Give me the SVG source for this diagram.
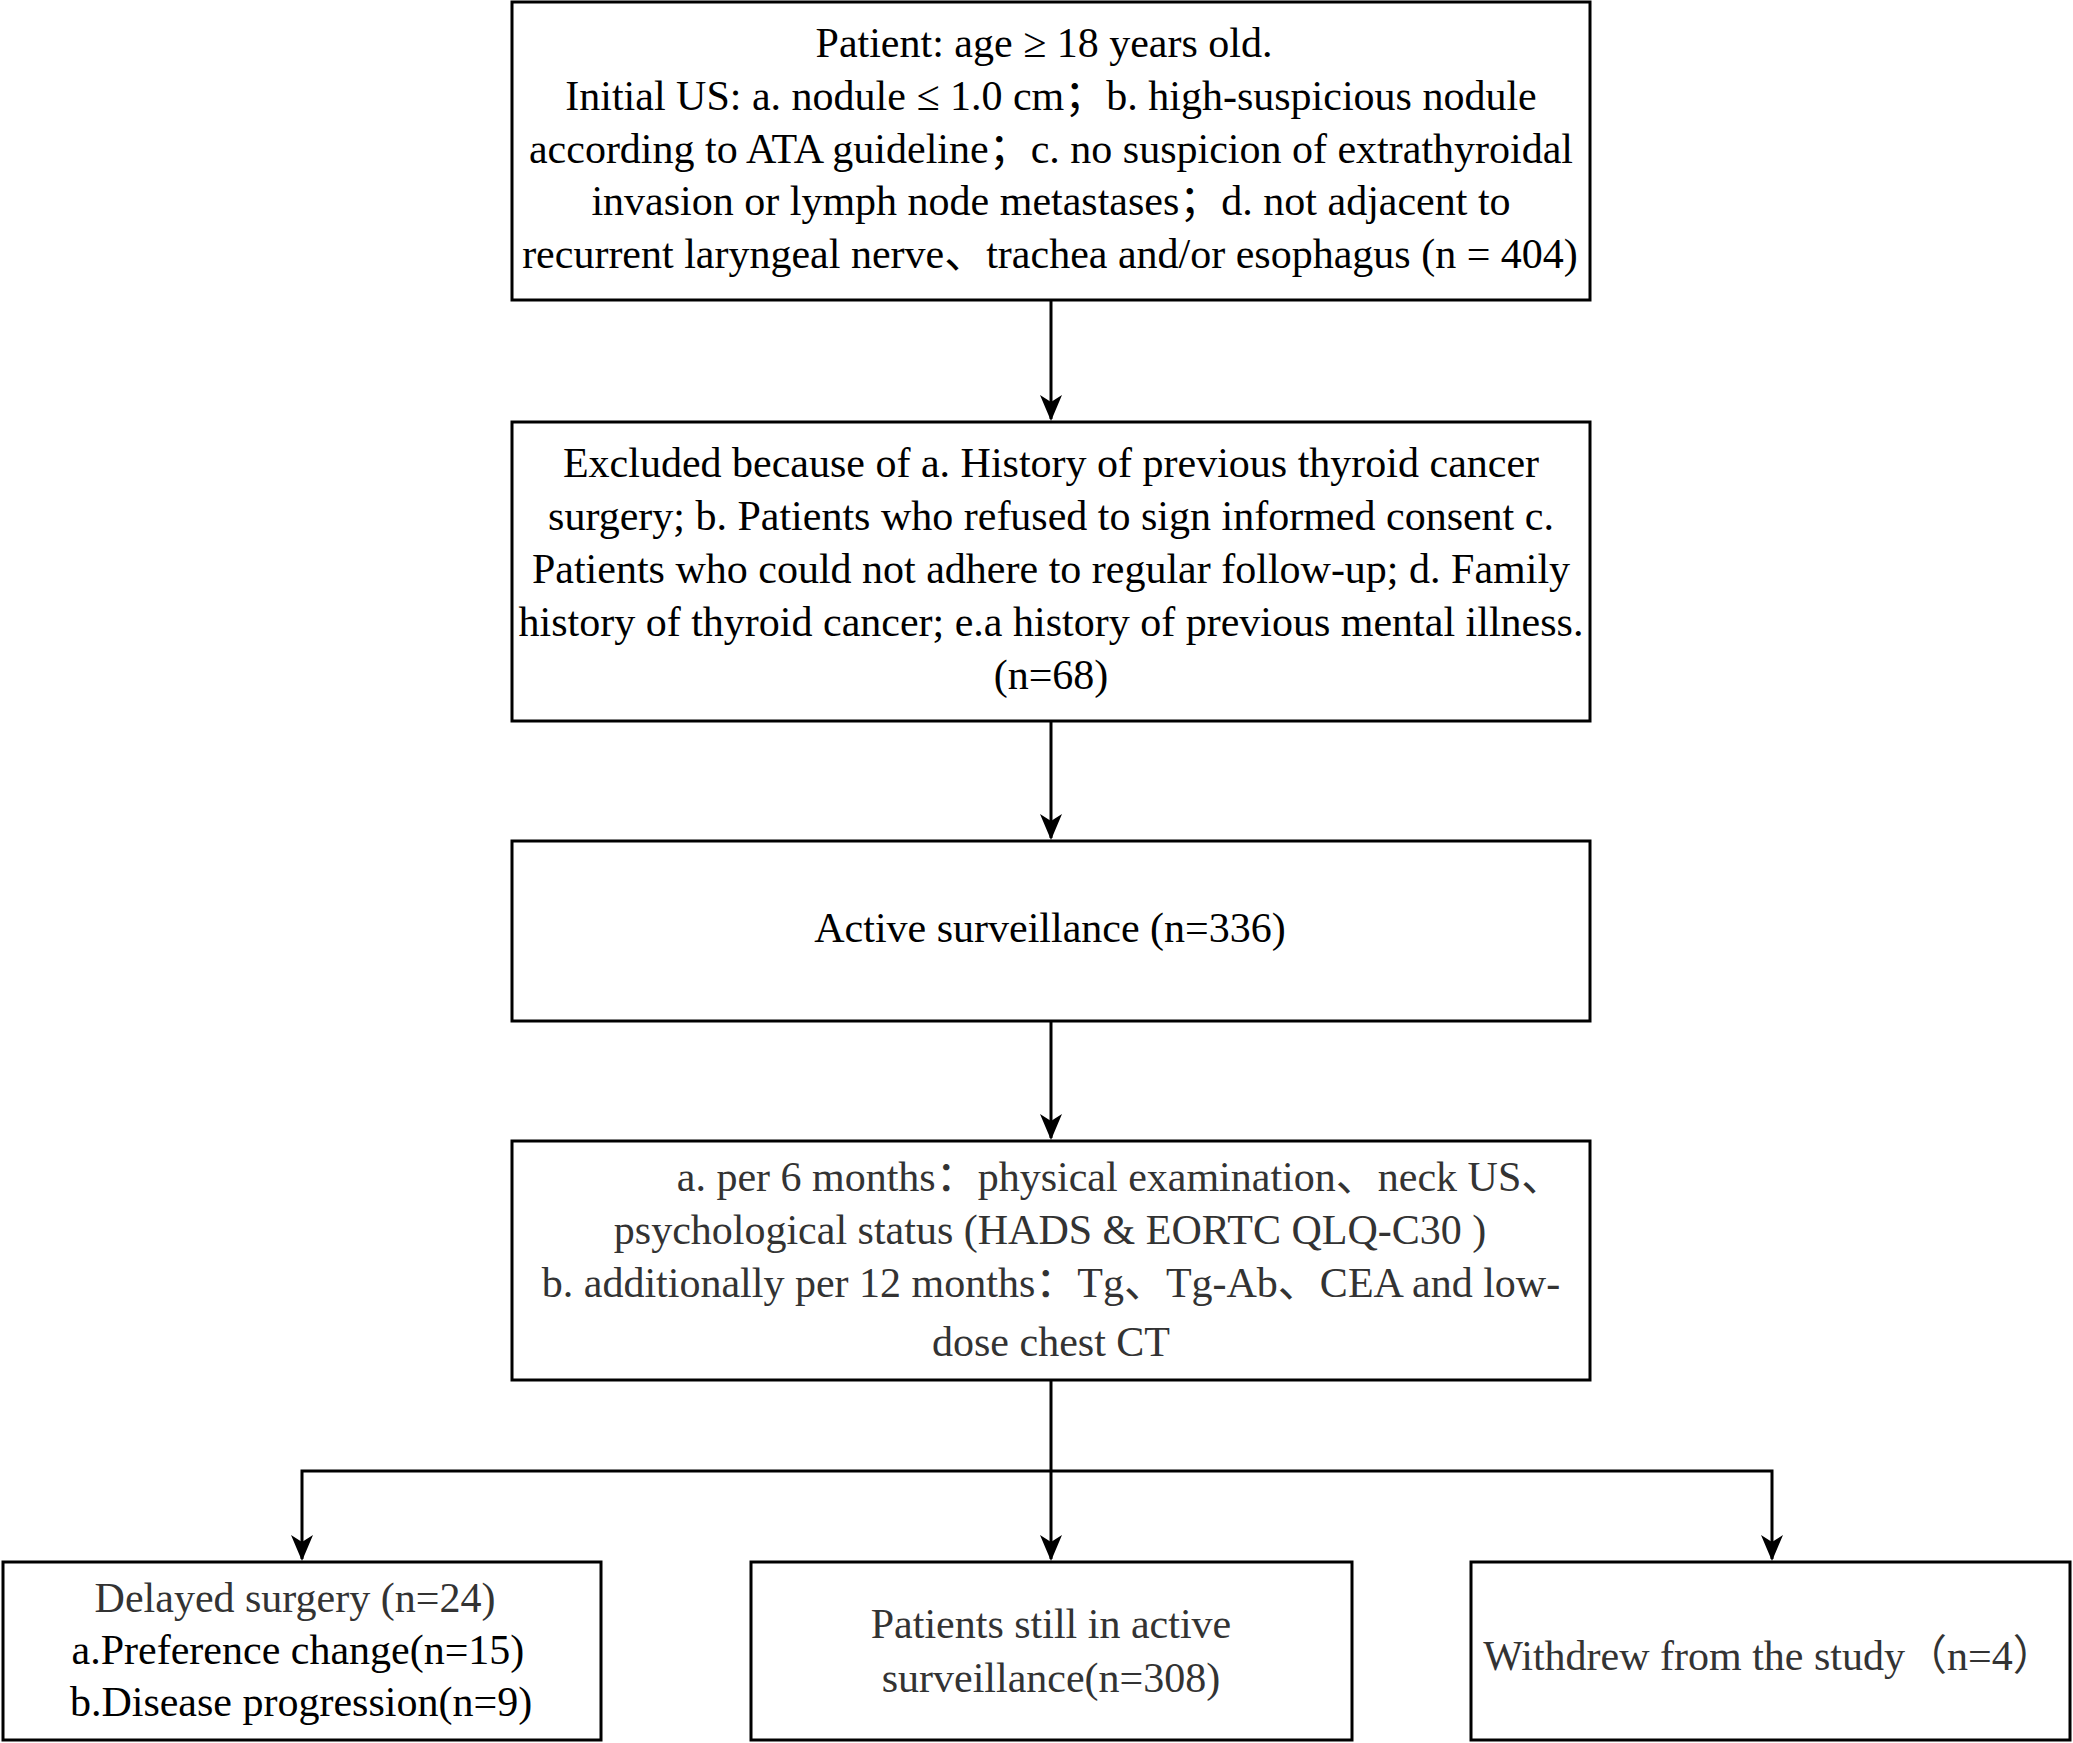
<svg xmlns="http://www.w3.org/2000/svg" width="2073" height="1743" viewBox="0 0 2073 1743">
<style>
.box{fill:#fff;stroke:#000;stroke-width:3}
.t{font-family:"Liberation Serif","Times New Roman","Noto Sans CJK SC",serif;font-size:42px;text-anchor:middle;fill:#000}
.g{fill:#333}
.c{fill:none;stroke:#000;stroke-width:3}
.ah{fill:#000}
</style>
<rect width="2073" height="1743" fill="#fff"/>
<g id="connectors">
<path class="c" d="M1051,300 V419"/>
<path class="c" d="M1051,721 V838"/>
<path class="c" d="M1051,1021 V1138"/>
<path class="c" d="M1051,1380 V1559"/>
<path class="c" d="M302,1559 V1471 H1772 V1559"/>
<path class="ah" d="M1051,421 L1040,395 L1051,402 L1062,395 Z"/>
<path class="ah" d="M1051,840 L1040,814 L1051,821 L1062,814 Z"/>
<path class="ah" d="M1051,1140 L1040,1114 L1051,1121 L1062,1114 Z"/>
<path class="ah" d="M1051,1561 L1040,1535 L1051,1542 L1062,1535 Z"/>
<path class="ah" d="M302,1561 L291,1535 L302,1542 L313,1535 Z"/>
<path class="ah" d="M1772,1561 L1761,1535 L1772,1542 L1783,1535 Z"/>
</g>
<g id="n1">
<rect class="box" x="512" y="2" width="1078" height="298"/>
<text class="t" x="1044" y="57">Patient: age ≥ 18 years old.</text>
<text class="t" x="1051" y="110">Initial US: a. nodule ≤ 1.0 cm；b. high-suspicious nodule</text>
<text class="t" x="1051" y="163">according to ATA guideline；c. no suspicion of extrathyroidal</text>
<text class="t" x="1051" y="215">invasion or lymph node metastases；d. not adjacent to</text>
<text class="t" x="1050" y="268">recurrent laryngeal nerve、trachea and/or esophagus (n = 404)</text>
</g>
<g id="n2">
<rect class="box" x="512" y="422" width="1078" height="299"/>
<text class="t" x="1051" y="477">Excluded because of a. History of previous thyroid cancer</text>
<text class="t" x="1051" y="530">surgery; b. Patients who refused to sign informed consent c.</text>
<text class="t" x="1051" y="583">Patients who could not adhere to regular follow-up; d. Family</text>
<text class="t" x="1051" y="636">history of thyroid cancer; e.a history of previous mental illness.</text>
<text class="t" x="1051" y="689">(n=68)</text>
</g>
<g id="n3">
<rect class="box" x="512" y="841" width="1078" height="180"/>
<text class="t" x="1050" y="942">Active surveillance (n=336)</text>
</g>
<g id="n4">
<rect class="box" x="512" y="1141" width="1078" height="239"/>
<text class="t g" x="1120" y="1191">a. per 6 months：physical examination、neck US、</text>
<text class="t g" x="1050" y="1244">psychological status (HADS &amp; EORTC QLQ-C30 )</text>
<text class="t g" x="1051" y="1297">b. additionally per 12 months：Tg、Tg-Ab、CEA and low-</text>
<text class="t g" x="1051" y="1356">dose chest CT</text>
</g>
<g id="n5">
<rect class="box" x="3" y="1562" width="598" height="178"/>
<text class="t g" x="295" y="1612">Delayed surgery (n=24)</text>
<text class="t" x="298" y="1664">a.Preference change(n=15)</text>
<text class="t" x="301" y="1716">b.Disease progression(n=9)</text>
</g>
<g id="n6">
<rect class="box" x="751" y="1562" width="601" height="178"/>
<text class="t g" x="1051" y="1638">Patients still in active</text>
<text class="t g" x="1051" y="1692">surveillance(n=308)</text>
</g>
<g id="n7">
<rect class="box" x="1471" y="1562" width="599" height="178"/>
<text class="t g" x="1769" y="1670">Withdrew from the study（n=4）</text>
</g>
</svg>
